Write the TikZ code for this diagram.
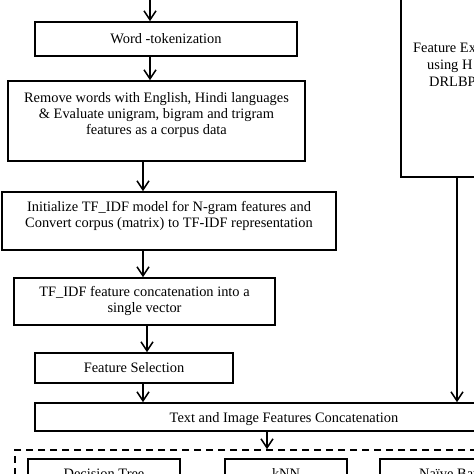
\documentclass[tikz,border=0pt]{standalone}
\usepackage{fontspec}
\setmainfont{Liberation Serif}
\usetikzlibrary{arrows.meta}
\begin{document}
\begin{tikzpicture}[x=1pt,y=-1pt,
  box/.style={draw, line width=1.7pt, rectangle, inner sep=0pt},
  txt/.style={font=\fontsize{14.4}{16}\selectfont, align=center, inner sep=0pt},
  arr/.style={line width=1.5pt, -{Straight Barb[length=9pt,width=12pt,line width=1.5pt]}},
  dbox/.style={draw, line width=1.7pt, dash pattern=on 7pt off 5pt, rectangle, inner sep=0pt}]
\useasboundingbox (0,0) rectangle (474,474);
\clip (0,0) rectangle (474,474);
% boxes
\node[box, minimum width=262pt, minimum height=34pt] (tok) at (166,39) {};
\node[box, minimum width=297pt, minimum height=80pt] (rem) at (156.5,121) {};
\node[box, minimum width=334pt, minimum height=58pt] (init) at (169,221) {};
\node[box, minimum width=261pt, minimum height=47pt] (tfc) at (144.5,301.5) {};
\node[box, minimum width=198pt, minimum height=30pt] (fsel) at (134,368) {};
\node[box, minimum width=498pt, minimum height=28pt] (cat) at (284,417) {};
\node[box, minimum width=160pt, minimum height=280pt] (fe) at (481,37) {};
\node[dbox, minimum width=600pt, minimum height=150pt] (cls) at (315,525) {};
\node[box, minimum width=152pt, minimum height=60pt] (dt) at (104,489) {};
\node[box, minimum width=122pt, minimum height=60pt] (knn) at (286,489) {};
\node[box, minimum width=160pt, minimum height=60pt] (nb) at (460,489) {};
% texts
\node[txt] (toktxt) at (166,38.5) {Word -tokenization};
\node[txt] (remtxt) at (156.5,115) {Remove words with English, Hindi languages\\ \& Evaluate unigram, bigram and trigram\\ features as a corpus data};
\node[txt] (inittxt) at (169,216) {Initialize TF\_IDF model for N-gram features and\\ Convert corpus (matrix) to TF-IDF representation};
\node[txt] (tfctxt) at (144.5,301) {TF\_IDF feature concatenation into a\\ single vector};
\node[txt] (fseltxt) at (134,368) {Feature Selection};
\node[txt] (cattxt) at (284,419) {Text and Image Features Concatenation};
\node[txt, anchor=base west] (fe1) at (413,52) {Feature Ex};
\node[txt, anchor=base west] (fe2) at (427,69) {using H};
\node[txt, anchor=base west] (fe3) at (429,86) {DRLBP+};
\node[txt, anchor=base] (dttxt) at (104,478) {Decision Tree};
\node[txt, anchor=base] (knntxt) at (286,478) {kNN};
\node[txt, anchor=base west] (nbtxt) at (419,478) {Naïve Bayes};
% connectors
\coordinate (top) at (150,-5);
\coordinate (a1) at (150,0);
\coordinate (a2) at (143,0);
\coordinate (a3) at (147,0);
\coordinate (a4) at (457,0);
\coordinate (a5) at (267,0);
\draw[arr] (top) -- (top |- tok.north);
\draw[arr] (tok.south -| a1) -- (rem.north -| a1);
\draw[arr] (rem.south -| a2) -- (init.north -| a2);
\draw[arr] (init.south -| a2) -- (tfc.north -| a2);
\draw[arr] (tfc.south -| a3) -- (fsel.north -| a3);
\draw[arr] (fsel.south -| a2) -- (cat.north -| a2);
\draw[arr] (fe.south -| a4) -- (cat.north -| a4);
\draw[arr] (cat.south -| a5) -- (cls.north -| a5);
\end{tikzpicture}
\end{document}
